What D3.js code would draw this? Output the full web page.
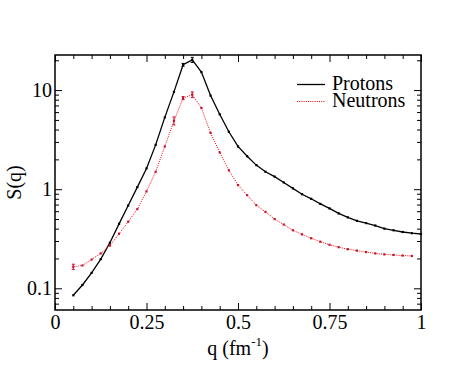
<!DOCTYPE html>
<html>
<head>
<meta charset="utf-8">
<script src="https://cdn.jsdelivr.net/npm/d3@7"></script>
</head>
<body style="margin:0;background:#fff">
<svg id="chart" width="474" height="366"></svg>
<script>
// q grid of the calculation (fm^-1)
const qValues = [0.05, 0.075, 0.1, 0.125, 0.15, 0.175, 0.2, 0.225, 0.25, 0.275,
                 0.3, 0.325, 0.35, 0.375, 0.4, 0.425, 0.45, 0.475, 0.5, 0.525,
                 0.55, 0.575, 0.6, 0.625, 0.65, 0.675, 0.7, 0.725, 0.75, 0.775,
                 0.8, 0.825, 0.85, 0.875, 0.9, 0.925, 0.95, 0.975, 1.0];
// S(q)
const protons = [0.085, 0.108, 0.143, 0.197, 0.288, 0.447, 0.684, 1.05, 1.62, 2.8,
                 5.3, 9.6, 18, 20.2, 15.2, 8.8, 5.7, 3.8, 2.7, 2.15,
                 1.75, 1.5, 1.34, 1.17, 1.02, 0.89, 0.80, 0.71, 0.64, 0.57,
                 0.52, 0.48, 0.455, 0.43, 0.40, 0.385, 0.37, 0.36, 0.353];
const protonErr = [0, 0, 0, 0, 0, 0, 0, 0, 0, 0,
                   0, 0, 0.6, 1.2, 0, 0, 0, 0, 0, 0,
                   0, 0, 0, 0, 0, 0, 0, 0, 0, 0,
                   0, 0, 0, 0, 0, 0, 0, 0, 0];
const neutrons = [0.165, 0.17, 0.195, 0.225, 0.27, 0.355, 0.47, 0.63, 0.95, 1.5,
                  2.7, 4.9, 8.3, 9.0, 6.6, 3.7, 2.35, 1.55, 1.1, 0.87,
                  0.69, 0.59, 0.50, 0.44, 0.385, 0.35, 0.32, 0.295, 0.275, 0.26,
                  0.248, 0.24, 0.232, 0.225, 0.22, 0.217, 0.214, 0.212];
const neutronErr = [0.01, 0, 0, 0, 0, 0, 0, 0, 0, 0,
                    0, 0.45, 0.3, 0.6, 0, 0, 0, 0, 0, 0,
                    0, 0, 0, 0, 0, 0, 0, 0, 0, 0,
                    0, 0, 0, 0, 0, 0, 0, 0];

const xTicks = [0, 0.25, 0.5, 0.75, 1];
const xTickLabels = ["0", "0.25", "0.5", "0.75", "1"];
const xMinor = [0.05, 0.1, 0.15, 0.2, 0.3, 0.35, 0.4, 0.45, 0.55, 0.6, 0.65, 0.7, 0.8, 0.85, 0.9, 0.95];
const yTicks = [0.1, 1, 10];
const yTickLabels = ["0.1", "1", "10"];
const yMinor = [0.07, 0.08, 0.09, 0.2, 0.3, 0.4, 0.5, 0.6, 0.7, 0.8, 0.9, 2, 3, 4, 5, 6, 7, 8, 9, 20];
const seriesNames = ["Protons", "Neutrons"];

const margin = {top: 55, right: 53, bottom: 56, left: 55};
const width = 474, height = 366;
const serif = "Liberation Serif";
const fs = 20;
const svg = d3.select("#chart");

svg.append("rect").attr("width", width).attr("height", height).attr("fill", "#fff");

const x = d3.scaleLinear().domain([0, 1]).range([margin.left, width - margin.right]);
const y = d3.scaleLog().domain([0.0604, 22.6]).range([height - margin.bottom, margin.top]);

function addAxis(axis, tf) {
  const g = svg.append("g").attr("transform", tf).call(axis);
  g.select(".domain").remove();
  g.attr("font-family", serif).attr("font-size", fs);
  g.selectAll(".tick line").attr("stroke", "#000").attr("stroke-width", 1);
  g.selectAll("text").attr("font-family", serif).attr("font-size", fs).attr("fill", "#000");
  return g;
}
const bottomY = height - margin.bottom, rightX = width - margin.right;

// minor ticks, all four sides, pointing in
addAxis(d3.axisBottom(x).tickValues(xMinor).tickFormat("").tickSizeInner(-4).tickSizeOuter(0), `translate(0,${bottomY})`);
addAxis(d3.axisTop(x).tickValues(xMinor).tickFormat("").tickSizeInner(-4).tickSizeOuter(0), `translate(0,${margin.top})`);
addAxis(d3.axisLeft(y).tickValues(yMinor).tickFormat("").tickSizeInner(-4).tickSizeOuter(0), `translate(${margin.left},0)`);
addAxis(d3.axisRight(y).tickValues(yMinor).tickFormat("").tickSizeInner(-4).tickSizeOuter(0), `translate(${rightX},0)`);

// major ticks
addAxis(d3.axisBottom(x).tickValues(xTicks).tickFormat((d, i) => xTickLabels[i]).tickSizeInner(-7).tickSizeOuter(0).tickPadding(5), `translate(0,${bottomY})`);
addAxis(d3.axisTop(x).tickValues(xTicks).tickFormat("").tickSizeInner(-7).tickSizeOuter(0), `translate(0,${margin.top})`);
addAxis(d3.axisLeft(y).tickValues(yTicks).tickFormat((d, i) => yTickLabels[i]).tickSizeInner(-7).tickSizeOuter(0).tickPadding(3), `translate(${margin.left},0)`);
addAxis(d3.axisRight(y).tickValues(yTicks).tickFormat("").tickSizeInner(-7).tickSizeOuter(0), `translate(${rightX},0)`);

// frame
svg.append("rect")
  .attr("x", margin.left).attr("y", margin.top)
  .attr("width", rightX - margin.left).attr("height", bottomY - margin.top)
  .attr("fill", "none").attr("stroke", "#000").attr("stroke-width", 1.5);

// series
const series = [
  {name: seriesNames[0], vals: protons, err: protonErr, color: "#000", mark: "#000", dash: null, w: 1.3},
  {name: seriesNames[1], vals: neutrons, err: neutronErr, color: "#ff0000", mark: "#c8102e", dash: "1,1.2", w: 1}
];

const line = d3.line().x(d => x(d.q)).y(d => y(d.v));

series.forEach(s => {
  const pts = s.vals.map((v, i) => ({q: qValues[i], v: v, e: s.err[i]}));
  svg.append("path").datum(pts)
    .attr("d", line)
    .attr("fill", "none")
    .attr("stroke", s.color)
    .attr("stroke-width", s.w)
    .attr("stroke-dasharray", s.dash);
  // error bars
  const eb = svg.append("g").attr("stroke", s.mark).attr("stroke-width", 1);
  pts.filter(d => d.e > 0).forEach(d => {
    const cx = x(d.q), y1 = y(d.v + d.e), y2 = y(Math.max(d.v - d.e, 0.061));
    eb.append("line").attr("x1", cx).attr("x2", cx).attr("y1", y1).attr("y2", y2);
    eb.append("line").attr("x1", cx - 1.5).attr("x2", cx + 1.5).attr("y1", y1).attr("y2", y1);
    eb.append("line").attr("x1", cx - 1.5).attr("x2", cx + 1.5).attr("y1", y2).attr("y2", y2);
  });
  svg.append("g").selectAll("rect").data(pts).join("rect")
    .attr("x", d => x(d.q) - 1.1)
    .attr("y", d => y(d.v) - 1.1)
    .attr("width", 2.2).attr("height", 2.2)
    .attr("fill", s.mark);
});

// legend
const legend = svg.append("g");
series.forEach((s, i) => {
  const ly = 84.5 + i * 17;
  legend.append("line")
    .attr("x1", 297).attr("x2", 325).attr("y1", ly).attr("y2", ly)
    .attr("stroke", s.color).attr("stroke-width", s.w)
    .attr("stroke-dasharray", s.dash);
  legend.append("text")
    .attr("x", 332).attr("y", ly + 5)
    .attr("font-family", serif).attr("font-size", fs)
    .text(s.name);
});

// axis titles
svg.append("text")
  .attr("transform", `translate(14,${(margin.top + bottomY) / 2}) rotate(-90)`)
  .attr("text-anchor", "middle")
  .attr("dy", "0.35em")
  .attr("font-family", serif).attr("font-size", fs)
  .text("S(q)");

const xt = svg.append("text")
  .attr("x", (margin.left + rightX) / 2)
  .attr("y", 355)
  .attr("text-anchor", "middle")
  .attr("font-family", serif).attr("font-size", fs);
xt.append("tspan").text("q (fm");
xt.append("tspan").attr("font-size", 13).attr("dy", -9).text("-1");
xt.append("tspan").attr("dy", 9).text(")");
</script>
</body>
</html>
